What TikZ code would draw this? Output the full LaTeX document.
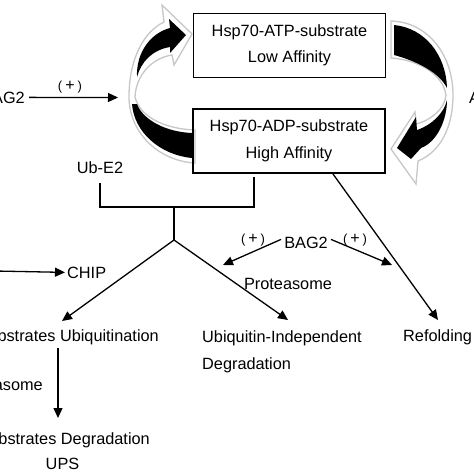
\documentclass[tikz,border=0pt]{standalone}
\usepackage{fontspec}
\setmainfont{Liberation Sans}
\usetikzlibrary{arrows.meta}
\tikzset{
  txt/.style={inner sep=0pt, font=\fontsize{16.3}{27}\selectfont},
  box/.style={draw, line width=1.8pt, minimum width=192pt, minimum height=64pt, inner sep=0pt, align=center, font=\fontsize{16.3}{26.5}\selectfont},
  plus/.style={inner sep=0pt, font=\fontsize{13}{15}\selectfont},
  ln/.style={line width=1.3pt},
  arr/.style={line width=1.3pt, -{Triangle[length=10pt,width=9pt]}},
  outl/.style={draw=black!22, line width=1.3pt, fill=white},
}
\newcommand{\pls}{(\hspace{3pt}{\fontsize{16}{16}\selectfont +}\hspace{3pt})}
\begin{document}
\begin{tikzpicture}[x=1pt,y=-1pt]
\useasboundingbox (0,0) rectangle (474,474);
% circular arrows (outlines then black parts)
\draw[outl] (195,163) .. controls (158,161) and (129,132) .. (129,97)
  .. controls (129,60) and (143,32) .. (164,22) -- (162,5) -- (192,34) -- (174,65) -- (172,55)
  .. controls (152,58) and (136,75) .. (135,97)
  .. controls (140,117) and (165,129) .. (195,130) -- cycle;
\fill (137,77) .. controls (136,52) and (151,33) .. (170,28) -- (169,19) -- (186,35) -- (170,53) -- (170,47)
  .. controls (152,50) and (141,62) .. (137,77) -- cycle;
\fill (132,104) .. controls (134,132) and (160,155) .. (192,158) -- (192,133)
  .. controls (166,132) and (143,120) .. (137,104) -- cycle;
\draw[outl] (391,21) .. controls (428,22) and (453,55) .. (453,95)
  .. controls (453,128) and (440,152) .. (418,161) -- (416,184) -- (391,149) -- (415,112) -- (416,124)
  .. controls (432,120) and (445,108) .. (446,95)
  .. controls (443,75) and (420,60) .. (391,58) -- cycle;
\fill (394,25) .. controls (425,28) and (446,55) .. (447,88)
  .. controls (440,74) and (420,62) .. (394,55) -- cycle;
\fill (447,100) .. controls (447,120) and (437,142) .. (421,148) -- (411,159) -- (397,148) -- (416,117) -- (417,130)
  .. controls (432,125) and (444,113) .. (447,100) -- cycle;
% boxes
\node[box] (atp) at (289.5,45.5) {Hsp70-ATP-substrate\\Low Affinity};
\node[box] (adp) at (289,141) {Hsp70-ADP-substrate\\High Affinity};
% left BAG2
\node[txt, anchor=base east] (bagL) at (25,103) {BAG2};
\node[plus] (plL) at (70,87) {\pls};
\coordinate (cycL) at (118,97.5);
\draw[arr] ([xshift=4pt]bagL.east) -- (cycL);
\node[txt, anchor=base west] (aR) at (469,103) {A};
% Ub-E2 and bracket
\node[txt, anchor=base] (ub) at (100,173) {Ub-E2};
\coordinate (bl) at (100,207);
\coordinate (br) at (254,207);
\coordinate (bt) at (254,177);
\coordinate (jn) at (174,207);
\coordinate (split) at (174,240);
\draw[ln] ([yshift=-10pt]ub.south) -- (bl) -- (br) -- (bt);
\draw[ln] (jn) -- (split);
% lower texts
\node[txt, anchor=base east] (ubq) at (159,341) {Substrates Ubiquitination};
\node[txt, anchor=base west, align=left] (uid) at (202,369) {Ubiquitin-Independent\\Degradation};
\node[txt, anchor=base west] (ref) at (403,341) {Refolding};
\node[txt, anchor=base west] (chip) at (67,278) {CHIP};
\node[txt, anchor=base] (bagM) at (306,248) {BAG2};
\node[plus] (plM1) at (253,240) {\pls};
\node[plus] (plM2) at (355,240) {\pls};
\node[txt, anchor=base] (prot) at (288,289) {Proteasome};
\node[txt, anchor=base east] (prot2) at (43,390) {Proteasome};
\node[txt, anchor=base east] (deg) at (150,444) {Substrates Degradation};
\node[txt, anchor=base] (ups) at (62.5,469) {UPS};
% arrow end points
\coordinate (tipL) at (62,321);
\coordinate (tipM) at (288,320);
\coordinate (tipR) at (438,320);
\coordinate (dstart) at (333,174);
\coordinate (bagLt) at (223,265);
\coordinate (bagRt) at (392,265);
\coordinate (chipS) at (-5,271);
\coordinate (downS) at (58,348);
\coordinate (downE) at (58,418);
\draw[arr] (split) -- (tipL);
\draw[arr] (split) -- (tipM);
\draw[arr] (dstart) -- (tipR);
\draw[arr] ([shift={(-3pt,3pt)}]bagM.west) -- (bagLt);
\draw[arr] ([shift={(3pt,3pt)}]bagM.east) -- (bagRt);
\draw[arr] (chipS) -- ([xshift=-2pt]chip.west);
\draw[arr] (downS) -- (downE);
\end{tikzpicture}
\end{document}
